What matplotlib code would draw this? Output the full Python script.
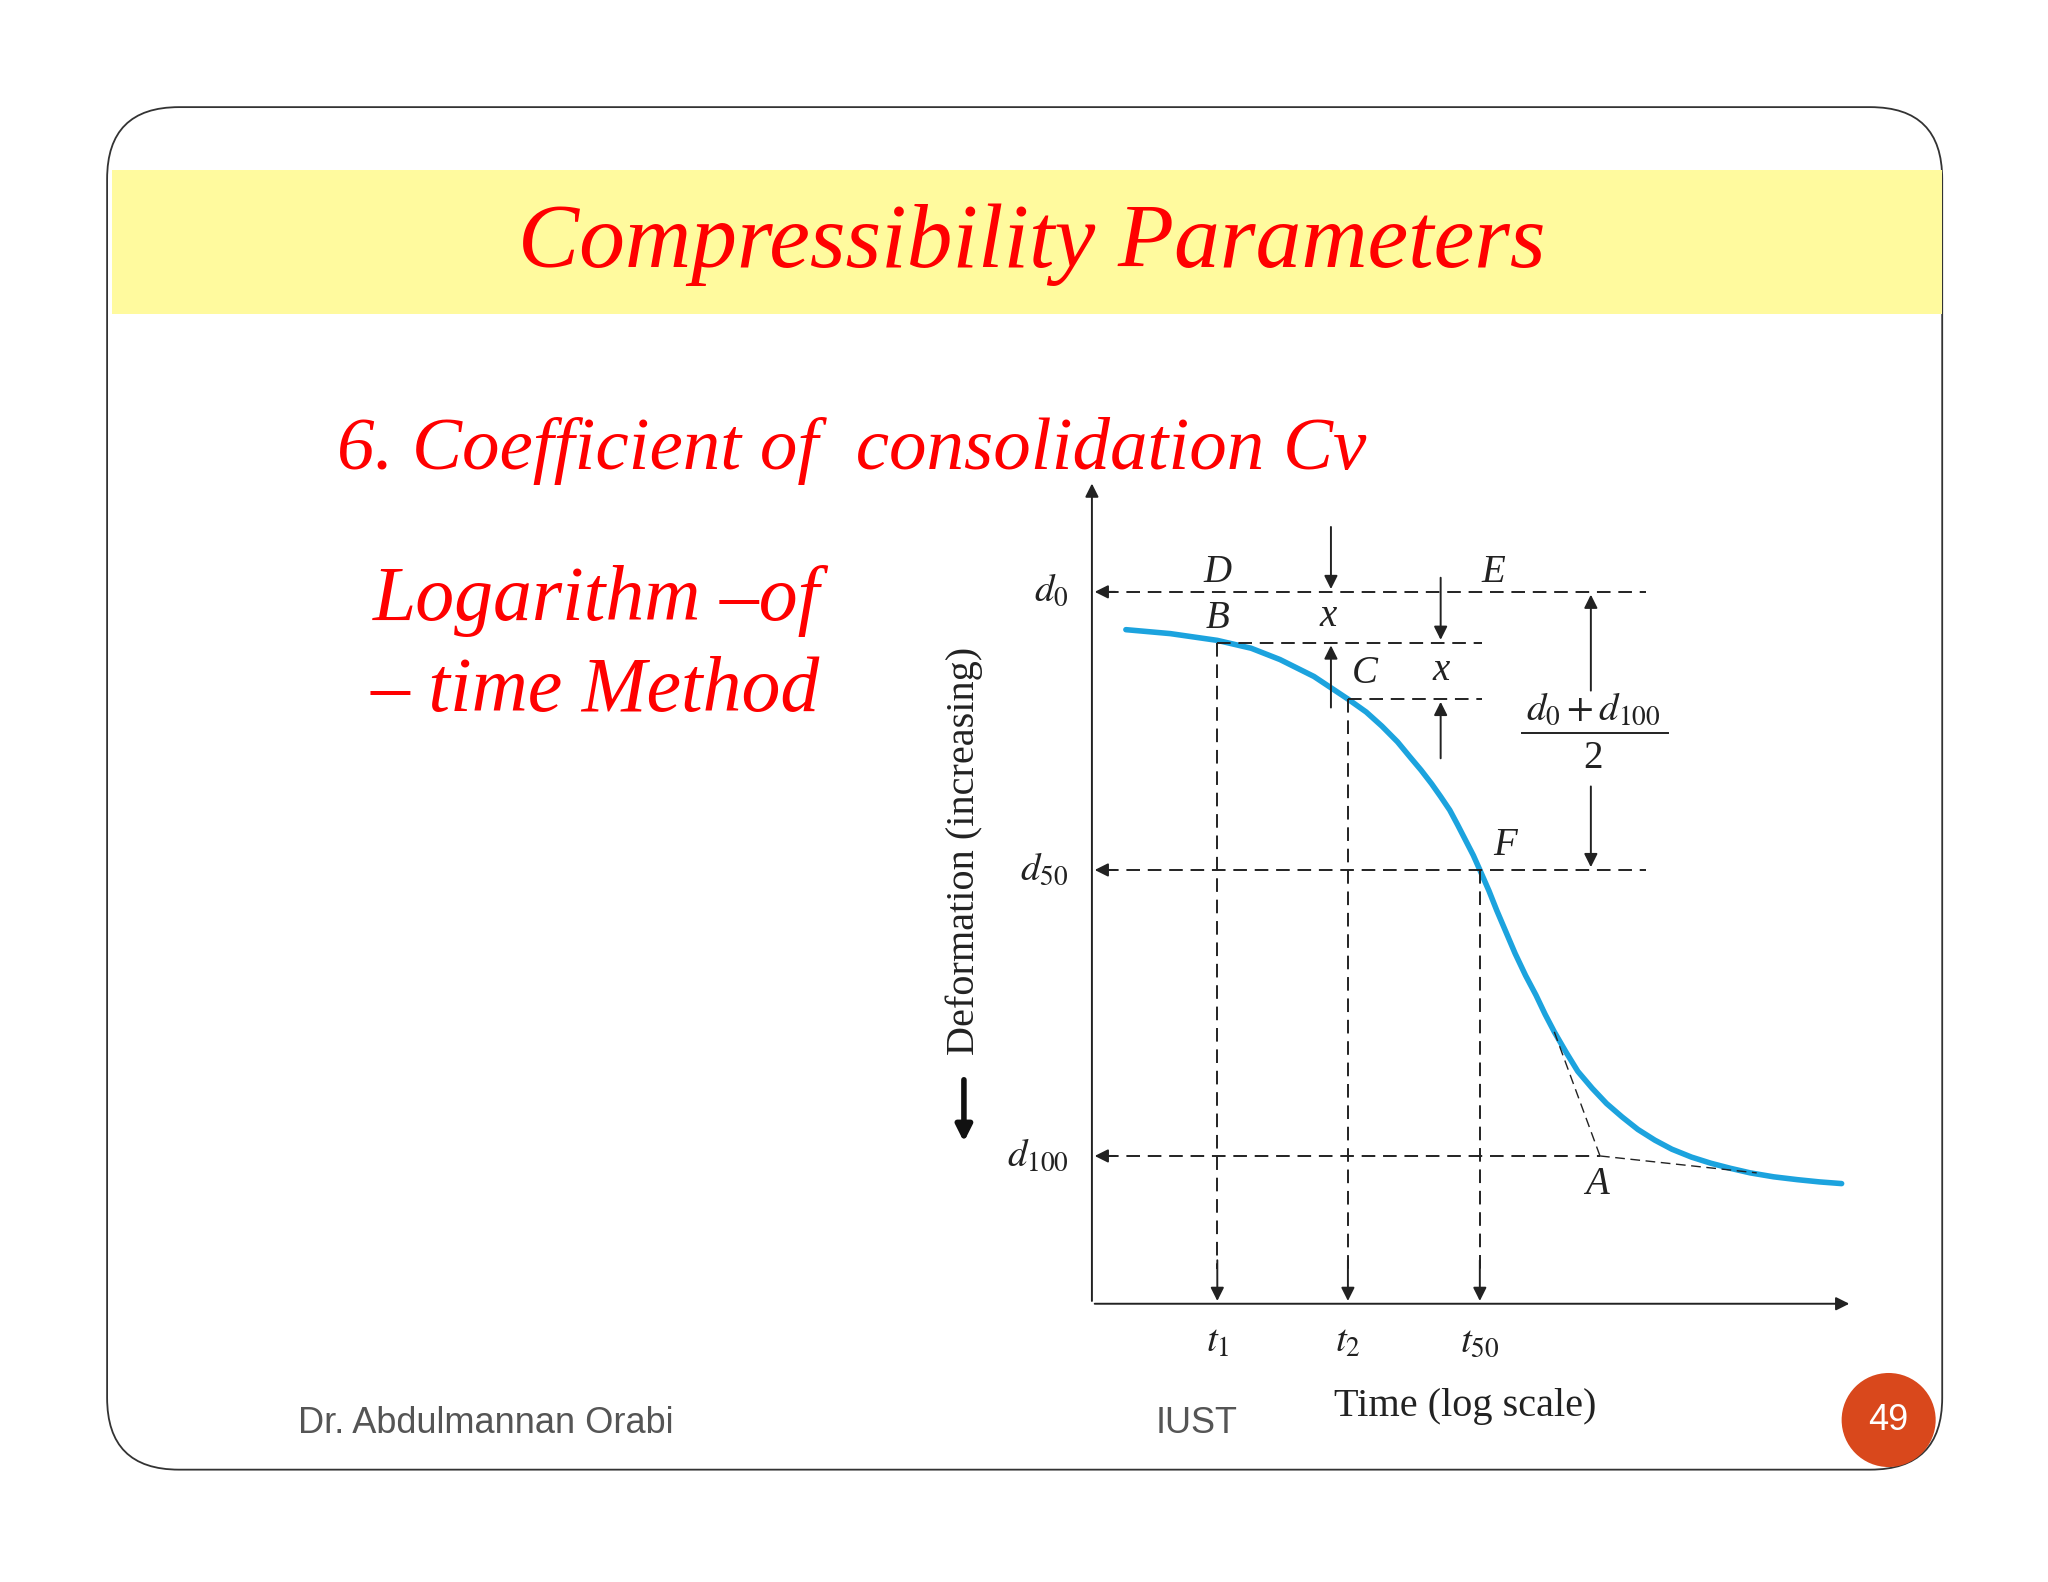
import matplotlib
matplotlib.use("Agg")
import matplotlib.pyplot as plt
from matplotlib.patches import FancyBboxPatch, Rectangle, Circle

plt.rcParams['mathtext.fontset'] = 'stix'
W, H = 1568.0, 1211.0
# curve data: log-time position, deformation (% of d0->d100)
log_t = [0.26, 0.60, 0.96, 1.22, 1.44, 1.70, 1.96, 2.10, 2.22, 2.34, 2.44, 2.52, 2.60, 2.67, 2.74, 2.80, 2.86, 2.92, 2.97, 3.04, 3.10, 3.17, 3.24, 3.32, 3.40, 3.47, 3.54, 3.63, 3.72, 3.83, 3.94, 4.06, 4.18, 4.31, 4.44, 4.59, 4.74, 4.89, 5.04, 5.22, 5.40, 5.57, 5.74]
deform = [6.7, 7.4, 8.6, 10.0, 12.0, 15.0, 19.0, 21.3, 23.8, 26.6, 29.4, 31.6, 34.0, 36.3, 38.7, 41.3, 44.0, 46.7, 49.3, 53.0, 56.5, 60.3, 64.1, 68.0, 71.5, 74.9, 78.0, 81.6, 85.0, 88.0, 90.7, 93.1, 95.3, 97.2, 98.8, 100.2, 101.3, 102.2, 103.0, 103.7, 104.2, 104.6, 104.9]
t1, t2, t50, tA = 0.96, 1.96, 2.97, 3.89
dB, dC, d50, d100 = 9.0, 19.0, 49.3, 100.0
tan1_t = [3.54, 3.89]; tan1_d = [78.0, 100.0]
tan2_t = [3.89, 5.09]; tan2_d = [100.0, 103.0]

fig = plt.figure(figsize=(20.48, 15.82), dpi=100)
bg = fig.add_axes([0, 0, 1, 1]); bg.set_xlim(0, W); bg.set_ylim(H, 0); bg.axis('off')
bg.add_patch(FancyBboxPatch((82, 82), 1405, 1043, boxstyle="round,pad=0,rounding_size=55", fc='white', ec='#333333', lw=1.3))
bg.add_patch(Rectangle((86, 130), 1401, 110, fc='#FFFA9E', ec='none'))
red = '#FF0000'
ser = dict(color=red, family='Liberation Serif', style='italic')
bg.text(790, 187, 'Compressibility Parameters', ha='center', va='center', fontsize=66, **ser)
bg.text(258, 345, '6. Coefficient of  consolidation Cv', ha='left', va='center', fontsize=54, **ser)
bg.text(628, 460, 'Logarithm –of', ha='right', va='center', fontsize=56, **ser)
bg.text(628, 530, '– time Method', ha='right', va='center', fontsize=56, **ser)
bg.text(228, 1090, 'Dr. Abdulmannan Orabi', ha='left', va='center', color='#555555', family='Liberation Sans', fontsize=26)
bg.text(885, 1090, 'IUST', ha='left', va='center', color='#555555', family='Liberation Sans', fontsize=26)
bg.add_patch(Circle((1446, 1087), 36, fc='#D9481C', ec='none'))
bg.text(1446, 1087, '49', ha='center', va='center', color='white', family='Liberation Sans', fontsize=26)

x0, x1, y0, y1 = 836, 1418, 368, 998
ax = fig.add_axes([x0/W, 1-y1/H, (x1-x0)/W, (y1-y0)/H])
ax.set_xlim(0, 5.82); ax.set_ylim(126.2, -19.7); ax.axis('off')
k = dict(color='#222222', lw=1.4, ls=(0, (7, 4)))
sf = dict(family='Liberation Serif', style='italic', fontsize=28, color='#222222')
ar = dict(arrowstyle='-|>', color='#222222', lw=1.4, mutation_scale=20)
ax.annotate('', xy=(0, -19.7), xytext=(0, 126.2), arrowprops=ar, annotation_clip=False)
ax.annotate('', xy=(5.82, 126.2), xytext=(0, 126.2), arrowprops=ar, annotation_clip=False)
ax.plot(log_t, deform, color='#1CA3DE', lw=4, solid_capstyle='round', solid_joinstyle='round')
ax.plot(tan1_t, tan1_d, **{**k, 'lw': 1.0})
ax.plot(tan2_t, tan2_d, **{**k, 'lw': 1.0})
for d, xe in [(0, 4.24), (d50, 4.24), (d100, tA)]:
    ax.plot([0.1, xe], [d, d], **k)
    ax.annotate('', xy=(0, d), xytext=(0.2, d), arrowprops=ar, annotation_clip=False)
ax.plot([t1, 2.99], [dB, dB], **k)
ax.plot([t2, 2.99], [dC, dC], **k)
for t, d in [(t1, dB), (t2, dC), (t50, d50)]:
    ax.plot([t, t], [d, 120], **k)
    ax.annotate('', xy=(t, 126.2), xytext=(t, 118), arrowprops=ar, annotation_clip=False)
for (xx, a, b) in [(1.83, -12, 0), (1.83, 21, dB), (2.67, -3, dB), (2.67, 30, dC), (3.82, 18, 0), (3.82, 34, d50)]:
    ax.annotate('', xy=(xx, b), xytext=(xx, a), arrowprops=ar, annotation_clip=False)
for s, tx, dy in [('D', 0.96, -3.5), ('E', 3.07, -3.5), ('B', 0.96, 4.8), ('x', 1.81, 4.4), ('C', 2.09, 14.4), ('x', 2.67, 13.9), ('F', 3.16, 45), ('A', 3.87, 105)]:
    ax.text(tx, dy, s, ha='center', va='center', clip_on=False, **sf)
for s, yy in [('$d_0$', 0), ('$d_{50}$', d50), ('$d_{100}$', d100)]:
    ax.text(-0.18, yy, s, ha='right', va='center', clip_on=False, **sf)
for s, tt in [('$t_1$', t1), ('$t_2$', t2), ('$t_{50}$', t50)]:
    ax.text(tt, 133, s, ha='center', va='center', clip_on=False, **sf)
ax.text(3.84, 21, '$d_0 + d_{100}$', ha='center', va='center', clip_on=False, **sf)
ax.text(3.84, 29.5, '2', ha='center', va='center', clip_on=False, **{**sf, 'style': 'normal'})
ax.plot([3.29, 4.41], [25, 25], color='#222222', lw=1.4, clip_on=False)
ax.text(2.86, 144.5, 'Time (log scale)', ha='center', va='center', clip_on=False, family='Liberation Serif', fontsize=29, color='#222222')
ax.text(-0.98, 46, 'Deformation (increasing)', rotation=90, ha='center', va='center', clip_on=False, family='Liberation Serif', fontsize=29, color='#222222')
ax.annotate('', xy=(-0.98, 98), xytext=(-0.98, 86), arrowprops=dict(arrowstyle='-|>', color='#111111', lw=4, mutation_scale=24), annotation_clip=False)
fig.savefig('out.png', dpi=100)
